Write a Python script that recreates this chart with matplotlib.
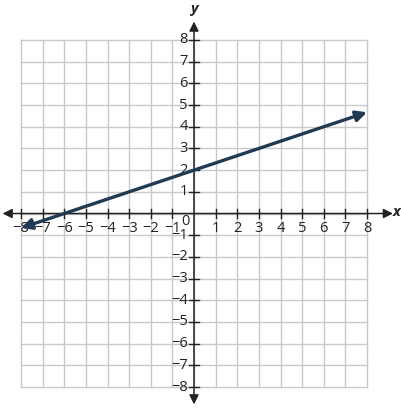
import matplotlib.pyplot as plt
import numpy as np

plt.rcParams['font.family'] = ['Open Sans', 'DejaVu Sans']

# data
x_ticks = [-8, -7, -6, -5, -4, -3, -2, -1, 1, 2, 3, 4, 5, 6, 7, 8]
y_ticks = [-8, -7, -6, -5, -4, -3, -2, -1, 1, 2, 3, 4, 5, 6, 7, 8]
line_x = [-8, 8]
line_y = [-2 / 3, 14 / 3]

line_color = '#1f3a52'
grid_color = '#c8c8c8'
ink = '#222222'

fig = plt.figure(figsize=(4.02, 4.08), dpi=100)
ax = fig.add_axes([0, 0, 1, 1])
ax.set_xlim(-8.971, 9.618)
ax.set_ylim(-8.966, 9.844)
ax.axis('off')

# grid
for g in range(-8, 9):
    ax.plot([g, g], [-8, 8], color=grid_color, lw=1, zorder=1)
    ax.plot([-8, 8], [g, g], color=grid_color, lw=1, zorder=1)

# axes with arrows at both ends
arr = dict(arrowstyle='<|-|>', color=ink, lw=1.1, mutation_scale=14, shrinkA=0, shrinkB=0)
ax.annotate('', xy=(9.2, 0), xytext=(-8.85, 0), arrowprops=arr, zorder=3)
ax.annotate('', xy=(0, 8.85), xytext=(0, -8.8), arrowprops=arr, zorder=3)

# ticks and labels
tk = 0.22
fs = 10.5
for t in x_ticks:
    ax.plot([t, t], [-tk, tk], color=ink, lw=1, zorder=3)
    lab = str(t).replace('-', '\u2212')
    ax.text(t, -0.68, lab, ha='center', va='center', fontsize=fs, color=ink)
for t in y_ticks:
    ax.plot([-tk, tk], [t, t], color=ink, lw=1, zorder=3)
    lab = str(t).replace('-', '\u2212')
    ax.text(-0.28, t, lab, ha='right', va='center', fontsize=fs, color=ink)
ax.text(-0.4, -0.38, '0', ha='center', va='center', fontsize=fs, color=ink)

ax.text(9.35, 0.05, 'x', ha='center', va='center', fontsize=10.5,
        style='italic', fontweight='bold', color=ink)
ax.text(0, 9.45, 'y', ha='center', va='center', fontsize=10.5,
        style='italic', fontweight='bold', color=ink)

# the line with arrows at both ends
ax.annotate('', xy=(line_x[1], line_y[1]), xytext=(line_x[0], line_y[0]),
            arrowprops=dict(arrowstyle='<|-|>', color=line_color, lw=2.4,
                            mutation_scale=16, shrinkA=0, shrinkB=0), zorder=4)

fig.savefig('out.png', dpi=100)
